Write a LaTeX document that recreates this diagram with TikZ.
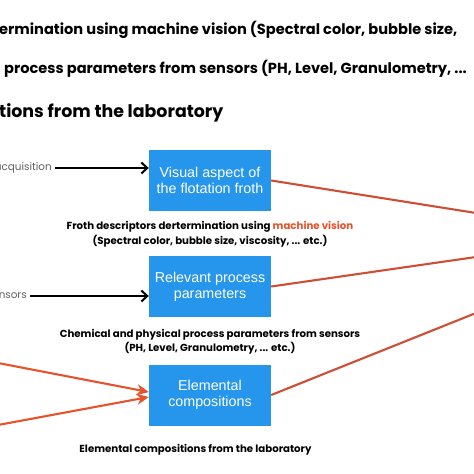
\documentclass[tikz,border=0pt]{standalone}
\usepackage{fontspec}
\setmainfont{Liberation Sans}
\newfontfamily\popfont{Poppins}
\usetikzlibrary{arrows.meta}
\definecolor{boxblue}{RGB}{38,150,236}
\definecolor{linkred}{RGB}{205,78,52}
\definecolor{tipred}{RGB}{232,82,42}
\definecolor{labelgray}{RGB}{95,95,95}
\begin{document}
\begin{tikzpicture}[x=1pt, y=-1pt,
	databox/.style={fill=boxblue, text=white, minimum width=122pt, minimum height=61pt, inner sep=0pt, align=center, font=\fontsize{14.3}{16}\selectfont},
	caption/.style={font=\popfont\bfseries\fontsize{10.2}{14.5}\selectfont, align=center},
	headline/.style={anchor=west, inner sep=0pt, font=\popfont\bfseries\fontsize{14.6}{16}\selectfont},
	source/.style={anchor=east, inner sep=0pt, text=labelgray, font=\popfont\fontsize{10.4}{12}\selectfont},
	feed/.style={-{Straight Barb[length=6pt,width=11pt,line width=2pt]}, line width=2pt, black},
	link/.style={linkred, line width=2.1pt},
	lablink/.style={tipred, line width=2.1pt, -{Stealth[length=12pt,width=11pt]}}]
\useasboundingbox (0,0) rectangle (474,474);
\clip (0,0) rectangle (474,474);

% Kopfzeilen
\node[headline] (h1) at (-1,30) {ermination using machine vision (Spectral color, bubble size,};
\node[headline] (h2) at (4,69) {process parameters from sensors (PH, Level, Granulometry, ...};
\node[headline, font=\popfont\bfseries\fontsize{17.4}{19}\selectfont] (h3) at (-1,113) {tions from the laboratory};

% Bloecke
\node[databox] (vis) at (210,180.5) {Visual aspect of\\the flotation froth};
\node[databox] (rel) at (210,286.5) {Relevant process\\parameters};
\node[databox] (elem) at (210,395) {Elemental\\compositions};

% Beschriftungen
\node[caption] (cvis) at (210,234.5) {Froth descriptors dertermination using \textcolor{tipred}{machine vision}\\(Spectral color, bubble size, viscosity, ... etc.)};
\node[caption] (crel) at (210,342) {Chemical and physical process parameters from sensors\\(PH, Level, Granulometry, ... etc.)};
\node[caption] (celem) at (195.5,450) {Elemental compositions from the laboratory};

% Eingaenge
\node[source] (acq) at (52,168) {acquisition};
\node[source] (sens) at (27,296) {nsors};
\draw[feed] ([xshift=3pt]acq.east) -- (acq.east -| vis.west);
\draw[feed] ([xshift=3pt]sens.east) -- (sens.east -| rel.west);

% Verbindungen nach rechts
\coordinate (r1) at (476,213);
\coordinate (r2) at (476,257);
\coordinate (r3) at (476,313);
\draw[link] (vis.east) -- (r1);
\draw[link] (rel.east) -- (r2);
\draw[link] (elem.east) -- (r3);

% Labor
\coordinate (l1) at (-2,363);
\coordinate (l2) at (-2,425);
\draw[lablink] (l1) -- ([yshift=3pt]elem.west);
\draw[lablink] (l2) -- ([yshift=-2pt]elem.west);
\end{tikzpicture}
\end{document}
